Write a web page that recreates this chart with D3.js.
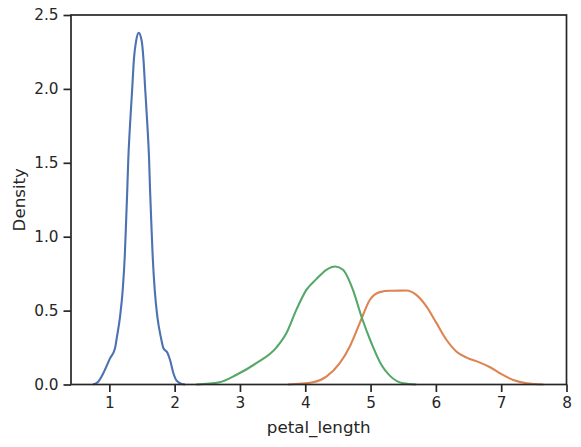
<!DOCTYPE html>
<html>
<head>
<meta charset="utf-8">
<script src="https://d3js.org/d3.v7.min.js"></script>
<style>
  body { margin: 0; background: #fff; }
  svg text { font-family: "DejaVu Sans", sans-serif; fill: #262626; }
</style>
</head>
<body>
<svg id="plot"></svg>
<script>
// values (petal_length vs density)
var species = ["setosa", "versicolor", "virginica"]
var colors = ["#4c72b0", "#55a868", "#dd8452"]

var setosaX = [0.75, 0.83, 0.907, 1.01, 1.087, 1.113, 1.164, 1.205, 1.236, 1.256, 1.274, 1.291, 1.317, 1.348, 1.378, 1.409, 1.45, 1.496, 1.521, 1.551, 1.582, 1.608, 1.624, 1.643, 1.664, 1.695, 1.735, 1.792, 1.828, 1.889, 1.93, 1.981, 2.03, 2.11, 2.16]
var setosaY = [0, 0.019, 0.076, 0.177, 0.245, 0.313, 0.459, 0.64, 0.866, 1.092, 1.31, 1.532, 1.758, 1.984, 2.21, 2.322, 2.379, 2.322, 2.21, 1.984, 1.758, 1.532, 1.31, 1.092, 0.866, 0.64, 0.459, 0.313, 0.245, 0.215, 0.166, 0.076, 0.026, 0.003, 0]

var versicolorX = [2.33, 2.687, 2.94, 3.25, 3.557, 3.71, 3.863, 4.017, 4.17, 4.323, 4.46, 4.578, 4.73, 4.86, 5.014, 5.167, 5.294, 5.5, 5.70]
var versicolorY = [0, 0.015, 0.064, 0.144, 0.25, 0.347, 0.505, 0.64, 0.713, 0.776, 0.798, 0.776, 0.64, 0.46, 0.279, 0.132, 0.06, 0.008, 0]

var virginicaX = [3.735, 4.118, 4.323, 4.528, 4.68, 4.834, 4.988, 5.141, 5.294, 5.345, 5.55, 5.70, 5.857, 6.01, 6.164, 6.317, 6.47, 6.675, 6.83, 6.98, 7.185, 7.39, 7.646]
var virginicaY = [0, 0.015, 0.053, 0.144, 0.256, 0.415, 0.572, 0.625, 0.634, 0.634, 0.636, 0.606, 0.527, 0.415, 0.301, 0.222, 0.182, 0.148, 0.117, 0.076, 0.030, 0.008, 0]

var xTicks = [1, 2, 3, 4, 5, 6, 7, 8]
var yTicks = [0, 0.5, 1.0, 1.5, 2.0, 2.5]

var width = 581
var height = 447
var margins = { left: 71, right: 14.5, top: 15, bottom: 62.5 }

var svg = d3.select("#plot")
  .attr("width", width)
  .attr("height", height)

var xScale = d3.scaleLinear().domain([0.413, 8.0]).range([margins.left, width - margins.right])
var yScale = d3.scaleLinear().domain([0, 2.5]).range([height - margins.bottom, margins.top])

var series = [
  { name: species[0], xs: setosaX, ys: setosaY, color: colors[0] },
  { name: species[1], xs: versicolorX, ys: versicolorY, color: colors[1] },
  { name: species[2], xs: virginicaX, ys: virginicaY, color: colors[2] }
]

var line = d3.line()
  .x(function (d) { return xScale(d[0]) })
  .y(function (d) { return yScale(d[1]) })
  .curve(d3.curveMonotoneX)

// curves (drawn last-first like seaborn's hue stack)
series.slice().reverse().forEach(function (s) {
  svg.append("path")
    .datum(d3.zip(s.xs, s.ys))
    .attr("fill", "none")
    .attr("stroke", s.color)
    .attr("stroke-width", 2.1)
    .attr("stroke-linejoin", "round")
    .attr("d", line)
})

// axes
var xAxis = d3.axisBottom(xScale).tickValues(xTicks).tickSize(7.5).tickPadding(5).tickFormat(d3.format("d"))
var yAxis = d3.axisLeft(yScale).tickValues(yTicks).tickSize(7.5).tickPadding(5).tickFormat(d3.format(".1f"))

var gx = svg.append("g")
  .attr("transform", "translate(0," + (height - margins.bottom) + ")")
  .call(xAxis)
var gy = svg.append("g")
  .attr("transform", "translate(" + margins.left + ",0)")
  .call(yAxis)

;[gx, gy].forEach(function (g) {
  g.select(".domain").remove()
  g.selectAll(".tick line").attr("stroke", "#262626").attr("stroke-width", 1.7)
  g.selectAll(".tick text").attr("font-size", 15.3).style("fill", "#262626")
})

// frame
svg.append("rect")
  .attr("x", margins.left)
  .attr("y", margins.top)
  .attr("width", width - margins.right - margins.left)
  .attr("height", height - margins.bottom - margins.top)
  .attr("fill", "none")
  .attr("stroke", "#262626")
  .attr("stroke-width", 1.7)

// labels
svg.append("text")
  .attr("x", (margins.left + width - margins.right) / 2)
  .attr("y", 433)
  .attr("text-anchor", "middle")
  .attr("font-size", 16.7)
  .text("petal_length")

svg.append("text")
  .attr("transform", "translate(25," + ((margins.top + height - margins.bottom) / 2) + ")rotate(-90)")
  .attr("text-anchor", "middle")
  .attr("font-size", 16.7)
  .text("Density")
</script>
</body>
</html>
